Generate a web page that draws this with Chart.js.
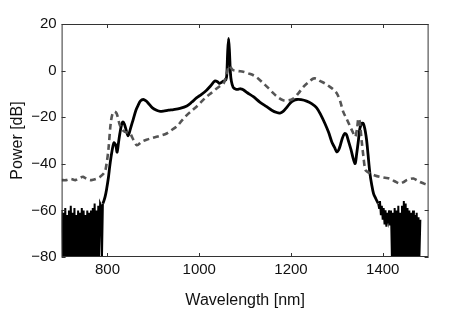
<!DOCTYPE html>
<html>
<head>
<meta charset="utf-8">
<script src="https://cdn.jsdelivr.net/npm/chart.js@4"></script>
<style>
  body { margin: 0; background: #fff; }
</style>
</head>
<body>
<canvas id="spec" width="474" height="321"></canvas>
<script>
  // solid trace: noisy floor on the left (nm, dB)
  let leftNoiseWl = [700, 702, 704, 706, 708, 710, 712, 714, 716, 718, 720, 722, 724, 726, 728, 730, 732, 734, 736, 738,
    740, 742, 744, 746, 748, 750, 752, 754, 756, 758, 760, 762, 764, 766, 768, 770, 772, 774, 776, 778,
    780, 782, 784, 786, 788, 790];
  let leftNoisePw = [-60, -80, -61, -80, -59, -80, -62, -80, -60, -80, -58, -80, -61, -80, -59, -80, -62, -80, -60, -80,
    -61, -80, -59, -80, -60, -80, -62, -80, -60, -80, -61, -80, -60, -80, -59, -80, -57, -80, -60, -80,
    -58, -80, -57, -58, -80, -57];

  // solid trace: main spectrum
  let mainWl = [790, 792, 795, 798, 802, 805, 809, 814, 818, 821, 824, 827, 831, 834, 837, 840, 845, 850, 856, 862,
    867, 872, 878, 884, 889, 898, 907, 915, 922, 933, 944, 958, 973, 984, 994, 1005, 1016, 1025, 1034, 1040,
    1044, 1049, 1053, 1058, 1060, 1062, 1064, 1066, 1068, 1070, 1074, 1080, 1085, 1090, 1096, 1105, 1118, 1132, 1147, 1158,
    1169, 1176, 1183, 1190, 1198, 1206, 1213, 1222, 1234, 1245, 1256, 1265, 1274, 1282, 1289, 1295, 1300, 1304, 1307, 1312,
    1317, 1321, 1325, 1331, 1336, 1340, 1343, 1347, 1350, 1354, 1357, 1359, 1362, 1365, 1368, 1372, 1376, 1380, 1385, 1390];
  let mainPw = [-57, -56, -54, -51, -46, -41, -35.6, -31, -32, -35, -31, -27, -23, -22, -23, -25, -28, -25, -21, -17,
    -14.8, -13, -12.4, -13, -14, -16, -17, -17.5, -17.4, -17, -16.7, -16.2, -15.2, -13.5, -11.7, -10.2, -8.4, -6.5, -4.5, -4.8,
    -5.5, -5, -4.5, -4, -2, 8, 13.8, 8, -1, -4.5, -7.2, -8, -8, -7.8, -8.2, -9.5, -11.2, -13.5, -15.5, -17,
    -18, -18.2, -17.5, -16, -14, -12.8, -12.4, -12.5, -13.1, -14.2, -16, -19, -22.7, -26.5, -30.6, -33, -34.9, -34, -32.4, -29,
    -27, -27.5, -30, -34, -38, -39.9, -36, -30, -25, -22.7, -22.6, -23.4, -26, -30, -36, -44, -49, -52.8, -55, -57];

  // solid trace: noisy floor on the right
  let rightNoiseWl = [1390, 1392, 1394, 1396, 1398, 1400, 1402, 1404, 1406, 1408, 1410, 1412, 1414, 1416, 1418, 1420,
    1422, 1424, 1426, 1428, 1430, 1432, 1434, 1436, 1438, 1440, 1442, 1444, 1446, 1448, 1450, 1452, 1454, 1456,
    1458, 1460, 1462, 1464, 1466, 1468, 1470, 1472, 1474, 1476, 1478, 1480, 1482];
  let rightNoisePw = [-57, -59, -56, -62, -58, -64, -59, -66, -60, -67, -61, -64, -60, -66, -60, -80,
    -61, -80, -59, -80, -60, -80, -58, -80, -61, -80, -58, -80, -56, -80, -57, -80, -59, -80,
    -60, -80, -61, -80, -60, -80, -62, -80, -61, -80, -63, -80, -64];

  // dashed trace
  let dashWl = [700, 710, 720, 730, 740, 747, 755, 765, 775, 784, 794, 798, 802, 807, 811, 815, 820, 827, 833, 838,
    849, 856, 864, 875, 885, 896, 907, 918, 929, 940, 951, 962, 973, 984, 994, 1005, 1016, 1027, 1038, 1046,
    1053, 1057, 1060, 1063, 1066, 1070, 1074, 1085, 1096, 1107, 1118, 1129, 1140, 1151, 1162, 1172, 1183, 1194, 1205, 1216,
    1227, 1238, 1249, 1256, 1263, 1274, 1285, 1293, 1300, 1307, 1314, 1322, 1329, 1335, 1340, 1344, 1347, 1350, 1354, 1358,
    1362, 1367, 1372, 1383, 1394, 1405, 1415, 1426, 1437, 1444, 1452, 1460, 1467, 1474, 1481, 1490, 1500];
  let dashPw = [-47, -47, -46.5, -47, -46, -45.6, -46.5, -47, -46.5, -45.6, -43.5, -40, -34, -22.7, -18.5, -17.6, -18.4, -23.4, -25.5, -26.3,
    -27, -29.5, -32, -30.5, -29.7, -29, -28.4, -27.8, -27, -25.5, -24, -21.5, -19.1, -17.2, -15.5, -13.3, -11.2, -9.5, -7.7, -6.5,
    -5.5, -3.5, -1.2, 1, 2, 1, 0.2, -0.2, -0.5, -1.2, -2, -3.5, -5.5, -7.5, -9.8, -11.5, -12.7, -12.8, -12, -9.8,
    -7, -5, -3.4, -3.5, -4.4, -5.5, -7, -8.2, -9.8, -13, -17.7, -21, -24, -26.5, -28.4, -25, -20.5, -22, -30, -37,
    -42.5, -43.5, -44, -45, -45.6, -46, -46.3, -47.5, -48.5, -48, -47, -46.5, -46.3, -47, -47.8, -48.5, -49.2];

  let xTicks = [800, 1000, 1200, 1400];
  let yTicks = [-80, -60, -40, -20, 0, 20];

  function pts(xs, ys) {
    return xs.map((x, i) => ({ x: x, y: ys[i] }));
  }

  // MATLAB style box with inward ticks
  let boxPlugin = {
    id: 'box',
    afterDatasetsDraw(chart) {
      let c = chart.ctx, a = chart.chartArea;
      let sx = chart.scales.x, sy = chart.scales.y;
      c.save();
      c.strokeStyle = '#333';
      c.lineWidth = 1;
      c.strokeRect(a.left + 0.5, a.top + 0.5, a.right - a.left - 1, a.bottom - a.top - 1);
      c.beginPath();
      xTicks.forEach(v => {
        let px = Math.round(sx.getPixelForValue(v)) + 0.5;
        c.moveTo(px, a.bottom); c.lineTo(px, a.bottom - 4);
        c.moveTo(px, a.top); c.lineTo(px, a.top + 4);
      });
      yTicks.forEach(v => {
        let py = Math.round(sy.getPixelForValue(v)) + 0.5;
        c.moveTo(a.left, py); c.lineTo(a.left + 4, py);
        c.moveTo(a.right, py); c.lineTo(a.right - 4, py);
      });
      c.stroke();
      c.restore();
    }
  };

  Chart.defaults.font.family = '"Liberation Sans", Arial, sans-serif';
  Chart.defaults.color = '#111';

  let minus = v => String(v).replace('-', '\u2212');

  let ctx = document.getElementById('spec').getContext('2d');
  let chart = new Chart(ctx, {
    type: 'line',
    data: {
      datasets: [
        { data: pts(dashWl, dashPw), borderColor: '#555', borderWidth: 2.6, borderDash: [6, 4], tension: 0.3 },
        { data: pts(leftNoiseWl, leftNoisePw), borderColor: '#000', borderWidth: 2, tension: 0 },
        { data: pts(mainWl, mainPw), borderColor: '#000', borderWidth: 2.8, tension: 0.3 },
        { data: pts(rightNoiseWl, rightNoisePw), borderColor: '#000', borderWidth: 2, tension: 0 }
      ]
    },
    options: {
      responsive: false,
      animation: false,
      parsing: false,
      layout: { padding: { top: 24, right: 45.4, left: 0, bottom: 0 } },
      elements: { point: { radius: 0 } },
      plugins: { legend: { display: false }, tooltip: { enabled: false } },
      scales: {
        x: {
          type: 'linear', min: 700, max: 1500,
          grid: { display: false, drawTicks: false },
          border: { display: false },
          afterBuildTicks: s => { s.ticks = xTicks.map(v => ({ value: v })); },
          afterFit: s => { s.height = 64; },
          ticks: { padding: 4, font: { size: 15 }, callback: v => minus(v) },
          title: { display: true, text: 'Wavelength [nm]', font: { size: 16 }, padding: { top: 11, bottom: 11 } }
        },
        y: {
          min: -80, max: 20,
          grid: { display: false, drawTicks: false },
          border: { display: false },
          afterBuildTicks: s => { s.ticks = yTicks.map(v => ({ value: v })); },
          afterFit: s => { s.width = 61.6; },
          ticks: { padding: 5, font: { size: 15 }, callback: v => minus(v) },
          title: { display: true, text: 'Power [dB]', font: { size: 16 }, padding: { top: 8, bottom: 8 } }
        }
      }
    },
    plugins: [boxPlugin]
  });
</script>
</body>
</html>
